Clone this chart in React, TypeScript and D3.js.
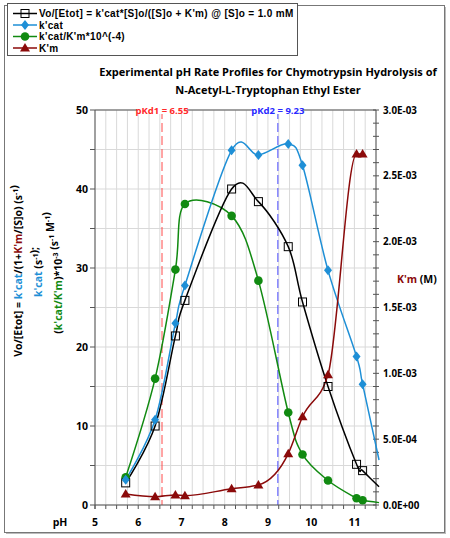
import React from 'react';
import * as d3 from 'd3';

// ---- data ----
const pH = [5.71, 6.39, 6.86, 7.08, 8.16, 8.78, 9.47, 9.8, 10.39, 11.05, 11.19];
const tailPH = 11.57;
const voEtot = [2.8, 10.0, 21.4, 25.9, 40.0, 38.4, 32.7, 25.7, 15.0, 5.15, 4.35];
const voEtotTail = 2.3;
const kcat = [3.2, 10.8, 23.0, 27.8, 44.9, 44.3, 45.7, 43.0, 29.7, 18.8, 15.3];
const kcatTail = 5.7;
const kcatKm = [3.5, 16.0, 29.8, 38.1, 36.6, 28.4, 11.7, 6.4, 3.1, 0.85, 0.6];
const kcatKmTail = 0.3;
const kmApp = [0.84e-4, 0.63e-4, 0.76e-4, 0.71e-4, 1.24e-4, 1.52e-4, 3.9e-4, 6.7e-4, 9.9e-4, 26.65e-4, 26.65e-4];

const xTicks = [5, 6, 7, 8, 9, 10, 11];
const leftTicks = [0, 10, 20, 30, 40, 50];
const rightTicks = [0, 5e-4, 1e-3, 1.5e-3, 2e-3, 2.5e-3, 3e-3];
const pKdValues = [6.55, 9.23];
const pKdLabels = ['pKd1 = 6.55', 'pKd2 = 9.23'];
const legendLabels = [
  "Vo/[Etot] = k'cat*[S]o/([S]o + K'm) @ [S]o = 1.0 mM",
  "k'cat",
  "k'cat/K'm*10^(-4)",
  "K'm",
];
const titleLines = [
  'Experimental pH Rate Profiles for Chymotrypsin Hydrolysis of',
  'N-Acetyl-L-Tryptophan Ethyl Ester',
];

const C_BLACK = '#000000';
const C_BLUE = '#1e8fd6';
const C_GREEN = '#118a11';
const C_RED = '#8b0a0a';
const FONT = "'Open Sans', 'DejaVu Sans', sans-serif";
const LEGEND_FONT = "'Liberation Sans', Arial, sans-serif";

const W = 450;
const H = 538;
const X0 = 95, X1 = 376, Y0 = 505, Y1 = 110;

const x = d3.scaleLinear().domain([5, 11.5]).range([X0, X1]);
const yL = d3.scaleLinear().domain([0, 50]).range([Y0, Y1]);
const yR = d3.scaleLinear().domain([0, 3e-3]).range([Y0, Y1]);

const fmtE = (v: number) => {
  const [m, e] = v.toExponential(1).split('e');
  const sign = e[0] === '-' ? '-' : '+';
  const digits = e.replace(/[+-]/, '').padStart(2, '0');
  return `${m}E${sign}${digits}`;
};

const smooth = d3.curveCardinal.tension(0);

function Marker({ kind, cx, cy }: { kind: string; cx: number; cy: number }) {
  if (kind === 'square')
    return <rect x={cx - 4} y={cy - 4} width={8} height={8} fill="#fff" fillOpacity={0} stroke="#000" strokeWidth={1} />;
  if (kind === 'diamond')
    return <path d={`M${cx},${cy - 5}L${cx + 4},${cy}L${cx},${cy + 5}L${cx - 4},${cy}Z`} fill={C_BLUE} />;
  if (kind === 'circle') return <circle cx={cx} cy={cy} r={4.3} fill={C_GREEN} />;
  return <path d={`M${cx},${cy - 5}L${cx + 5},${cy + 3.5}L${cx - 5},${cy + 3.5}Z`} fill={C_RED} />;
}

export default function App() {
  const lineL = d3
    .line<[number, number]>()
    .x((d) => x(d[0]))
    .y((d) => yL(d[1]))
    .curve(smooth);
  const lineR = d3
    .line<[number, number]>()
    .x((d) => x(d[0]))
    .y((d) => yR(d[1]))
    .curve(d3.curveMonotoneX);

  const series = [
    { vals: kcatKm, tail: kcatKmTail, color: C_GREEN, kind: 'circle', right: false },
    { vals: voEtot, tail: voEtotTail, color: C_BLACK, kind: 'square', right: false },
    { vals: kcat, tail: kcatTail, color: C_BLUE, kind: 'diamond', right: false },
    { vals: kmApp, tail: null as number | null, color: C_RED, kind: 'triangle', right: true },
  ];

  const minorX = d3.range(5, 11.5001, 0.25);
  const minorL = d3.range(0, 50.001, 5);
  const minorR = d3.range(0, 3.0001e-3, 1e-4);

  const legendKinds = ['square', 'diamond', 'circle', 'triangle'];
  const legendColors = [C_BLACK, C_BLUE, C_GREEN, C_RED];
  const legendY = [13.5, 25, 36.5, 48];

  const sup = (t: string, key: string) => [
    <tspan key={key + 'a'} dy={-4} fontSize={7}>{t}</tspan>,
    <tspan key={key + 'b'} dy={4}>{''}</tspan>,
  ];

  return (
    <svg width={W} height={H} style={{ position: 'absolute', left: 0, top: 0 }} fontFamily={FONT} fontWeight="bold">
      <rect x={0} y={0} width={W} height={H} fill="#fff" />
      <rect x={4.5} y={5.5} width={440} height={527} fill="#fff" stroke="#777" strokeWidth={1} />
      <line x1={6} y1={533.5} x2={446} y2={533.5} stroke="#bbb" />
      <line x1={445.5} y1={7} x2={445.5} y2={534} stroke="#bbb" />

      {/* grid */}
      <g stroke="#d9d9d9" strokeWidth={1}>
        {minorX.map((v, i) => (
          <line key={'gx' + i} x1={x(v)} x2={x(v)} y1={Y1} y2={Y0} />
        ))}
        {minorL.map((v, i) => (
          <line key={'gy' + i} x1={X0} x2={X1} y1={yL(v)} y2={yL(v)} />
        ))}
      </g>

      {/* pKd dashed lines */}
      {pKdValues.map((v, i) => (
        <line
          key={'pk' + i}
          x1={x(v)}
          x2={x(v)}
          y1={Y1}
          y2={Y0}
          stroke={i === 0 ? '#ff4a4a' : '#4a4aff'}
          strokeWidth={1}
          strokeDasharray="9,4"
        />
      ))}

      {/* axes frame */}
      <g stroke="#555" strokeWidth={1}>
        <line x1={X0} x2={X1} y1={Y1} y2={Y1} />
        <line x1={X0} x2={X1} y1={Y0} y2={Y0} />
        <line x1={X0} x2={X0} y1={Y1} y2={Y0 + 4} />
        <line x1={X1} x2={X1} y1={Y1} y2={Y0} />
        {minorX.map((v, i) => (
          <line key={'tx' + i} x1={x(v)} x2={x(v)} y1={Y0} y2={Y0 + 4} />
        ))}
        {minorL.map((v, i) => (
          <line key={'tl' + i} x1={X0 - 5} x2={X0} y1={yL(v)} y2={yL(v)} />
        ))}
        {minorR.map((v, i) => (
          <line key={'tr' + i} x1={X1 - 3} x2={X1 + 3} y1={yR(v)} y2={yR(v)} />
        ))}
      </g>

      {/* pKd labels */}
      {pKdValues.map((v, i) => (
        <g key={'pl' + i}>
          <rect x={x(v) - 25} y={Y1 - 5} width={50} height={9} fill="#fff" />
          <text x={x(v)} y={Y1 + 3.5} textAnchor="middle" fontSize={9.5} fill={i === 0 ? '#ff2a2a' : '#2a2aff'}>
            {pKdLabels[i]}
          </text>
        </g>
      ))}

      {/* series */}
      {series.map((s, si) => {
        const pts: [number, number][] = s.vals.map((v, i) => [pH[i], v]);
        if (s.tail !== null) pts.push([tailPH, s.tail]);
        const gen = s.right ? lineR : lineL;
        return (
          <path key={'s' + si} d={gen(pts) || ''} fill="none" stroke={s.color} strokeWidth={1.5} />
        );
      })}
      {series.map((s, si) => (
        <g key={'m' + si}>
          {s.vals.map((v, i) => (
            <Marker key={i} kind={s.kind} cx={x(pH[i])} cy={s.right ? yR(v) : yL(v)} />
          ))}
        </g>
      ))}

      {/* tick labels */}
      <g fontSize={10.5} fill="#000">
        {xTicks.map((v) => (
          <text key={'xl' + v} x={x(v)} y={526} textAnchor="middle">
            {v}
          </text>
        ))}
        {leftTicks.map((v) => (
          <text key={'ll' + v} x={X0 - 7} y={yL(v) + 4} textAnchor="end">
            {v}
          </text>
        ))}
        <text x={60} y={526} textAnchor="middle">pH</text>
      </g>
      <g fontSize={9.8} fill="#000">
        {rightTicks.map((v) => (
          <text key={'rl' + v} x={383} y={yR(v) + 3.5} textAnchor="start">
            {fmtE(v)}
          </text>
        ))}
      </g>

      {/* right axis title */}
      <text x={397} y={283} fontSize={10.5}>
        <tspan fill={C_RED}>K'm</tspan>
        <tspan fill="#000"> (M)</tspan>
      </text>

      {/* left axis title */}
      <g fontSize={10.5}>
        <text transform="translate(22,271) rotate(-90)" textAnchor="middle" fill="#000">
          <tspan>Vo/[Etot] = </tspan>
          <tspan fill={C_BLUE}>k'cat</tspan>
          <tspan>/(1+</tspan>
          <tspan fill={C_RED}>K'm</tspan>
          <tspan>/[S]o) (s</tspan>
          {sup('-1', 'a1')}
          <tspan>)</tspan>
        </text>
        <text transform="translate(42,272) rotate(-90)" textAnchor="middle" fill="#000">
          <tspan fill={C_BLUE}>k'cat</tspan>
          <tspan> (s</tspan>
          {sup('-1', 'b1')}
          <tspan>);</tspan>
        </text>
        <text transform="translate(62,273) rotate(-90)" textAnchor="middle" fill="#000">
          <tspan>(</tspan>
          <tspan fill={C_GREEN}>k'cat/K'm</tspan>
          <tspan>)*10</tspan>
          {sup('-3', 'c1')}
          <tspan> (s</tspan>
          {sup('-1', 'c2')}
          <tspan> M</tspan>
          {sup('-1', 'c3')}
          <tspan>)</tspan>
        </text>
      </g>

      {/* title */}
      <g fontSize={11} textAnchor="middle" fill="#000">
        <text x={268} y={76}>{titleLines[0]}</text>
        <text x={268} y={94}>{titleLines[1]}</text>
      </g>

      {/* legend */}
      <rect x={7.5} y={3.5} width={290} height={52} fill="#fff" stroke="#555" strokeWidth={1} />
      {legendLabels.map((t, i) => (
        <g key={'lg' + i}>
          <line x1={13} x2={37} y1={legendY[i]} y2={legendY[i]} stroke={legendColors[i]} strokeWidth={1.5} />
          <Marker kind={legendKinds[i]} cx={25} cy={legendY[i]} />
          <text
            x={39}
            y={legendY[i] + 3.6}
            fontSize={10}
            fontFamily={LEGEND_FONT}
            letterSpacing={0.35}
            fill="#000"
          >
            {t}
          </text>
        </g>
      ))}
    </svg>
  );
}
